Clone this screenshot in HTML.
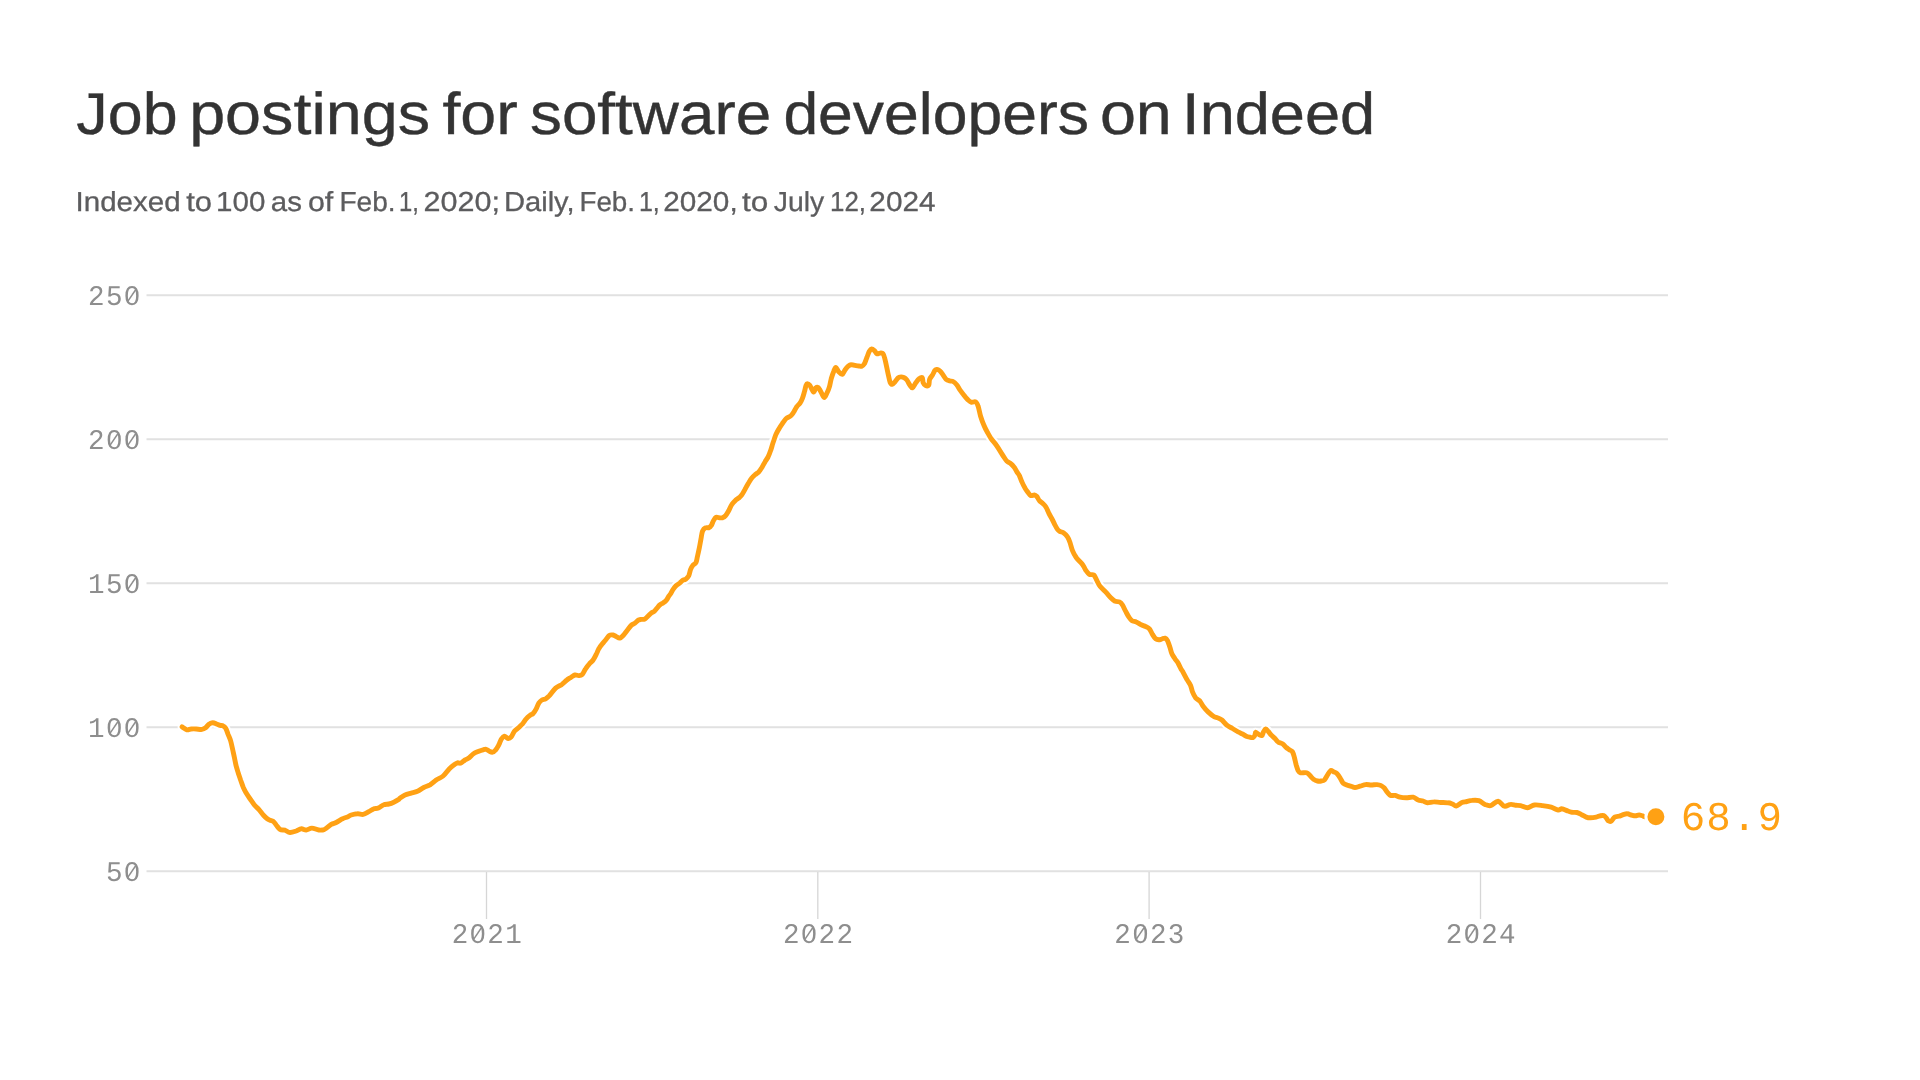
<!DOCTYPE html>
<html lang="en">
<head>
<meta charset="utf-8">
<title>Job postings for software developers on Indeed</title>
<style>
html,body{margin:0;padding:0;background:#fff;}
body{width:1920px;height:1080px;overflow:hidden;position:relative;font-family:"Liberation Sans",sans-serif;}
svg{position:absolute;left:0;top:0;display:block;}
.title,.sub{text-rendering:geometricPrecision;}
.title{font-family:"Liberation Sans",sans-serif;font-size:59.0px;fill:#333;stroke:#333;stroke-width:0.4px;}
.sub{font-family:"Liberation Sans",sans-serif;font-size:27.5px;fill:#5c5c5e;stroke:#5c5c5e;stroke-width:0.3px;}
</style>
</head>
<body>
<svg width="1920" height="1080" viewBox="0 0 1920 1080">
<rect x="0" y="0" width="1920" height="1080" fill="#ffffff"/>
<g opacity="0.999">
<text transform="translate(76.36,134.3) scale(1.0642,1)" class="title">Job</text>
<text transform="translate(189.16,134.3) scale(1.0960,1)" class="title">postings</text>
<text transform="translate(442.40,134.3) scale(1.0942,1)" class="title">for</text>
<text transform="translate(529.98,134.3) scale(1.0815,1)" class="title">software</text>
<text transform="translate(783.38,134.3) scale(1.0587,1)" class="title">developers</text>
<text transform="translate(1099.88,134.3) scale(1.0968,1)" class="title">on</text>
<text transform="translate(1182.09,134.3) scale(1.0700,1)" class="title">Indeed</text>
<text transform="translate(75.58,211) scale(1.0732,1)" class="sub">Indexed</text>
<text transform="translate(186.24,211) scale(1.1264,1)" class="sub">to</text>
<text transform="translate(216.06,211) scale(1.0741,1)" class="sub">100</text>
<text transform="translate(270.76,211) scale(1.0708,1)" class="sub">as</text>
<text transform="translate(307.93,211) scale(1.1037,1)" class="sub">of</text>
<text transform="translate(339.40,211) scale(1.0205,1)" class="sub">Feb.</text>
<text transform="translate(398.99,211) scale(0.8655,1)" class="sub">1,</text>
<text transform="translate(423.47,211) scale(1.1111,1)" class="sub">2020;</text>
<text transform="translate(503.91,211) scale(1.0599,1)" class="sub">Daily,</text>
<text transform="translate(579.42,211) scale(1.0105,1)" class="sub">Feb.</text>
<text transform="translate(638.90,211) scale(0.9091,1)" class="sub">1,</text>
<text transform="translate(663.21,211) scale(1.0818,1)" class="sub">2020,</text>
<text transform="translate(742.03,211) scale(1.1451,1)" class="sub">to</text>
<text transform="translate(773.77,211) scale(1.0325,1)" class="sub">July</text>
<text transform="translate(830.03,211) scale(0.9418,1)" class="sub">12,</text>
<text transform="translate(869.31,211) scale(1.0833,1)" class="sub">2024</text>
<line x1="146.5" y1="295.3" x2="1668" y2="295.3" stroke="#e1e1e1" stroke-width="2"/>
<text transform="scale(0.97,1)" x="99.38 117.73 136.08" y="305.00" text-anchor="middle" font-family="Liberation Mono, monospace" font-size="28.4" fill="#8e8e8e" style="text-rendering:geometricPrecision">250</text>
<rect x="129.79" y="293.21" width="4.40" height="4.71" fill="#ffffff"/>
<line x1="127.77" y1="301.37" x2="135.63" y2="289.72" stroke="#8e8e8e" stroke-width="1.46"/>
<line x1="146.5" y1="439.3" x2="1668" y2="439.3" stroke="#e1e1e1" stroke-width="2"/>
<text transform="scale(0.97,1)" x="99.38 117.73 136.08" y="449.00" text-anchor="middle" font-family="Liberation Mono, monospace" font-size="28.4" fill="#8e8e8e" style="text-rendering:geometricPrecision">200</text>
<rect x="111.99" y="437.21" width="4.40" height="4.71" fill="#ffffff"/>
<line x1="109.97" y1="445.37" x2="117.83" y2="433.72" stroke="#8e8e8e" stroke-width="1.46"/>
<rect x="129.79" y="437.21" width="4.40" height="4.71" fill="#ffffff"/>
<line x1="127.77" y1="445.37" x2="135.63" y2="433.72" stroke="#8e8e8e" stroke-width="1.46"/>
<line x1="146.5" y1="583.3" x2="1668" y2="583.3" stroke="#e1e1e1" stroke-width="2"/>
<text transform="scale(0.97,1)" x="99.38 117.73 136.08" y="593.00" text-anchor="middle" font-family="Liberation Mono, monospace" font-size="28.4" fill="#8e8e8e" style="text-rendering:geometricPrecision">150</text>
<rect x="129.79" y="581.21" width="4.40" height="4.71" fill="#ffffff"/>
<line x1="127.77" y1="589.37" x2="135.63" y2="577.72" stroke="#8e8e8e" stroke-width="1.46"/>
<line x1="146.5" y1="727.3" x2="1668" y2="727.3" stroke="#e1e1e1" stroke-width="2"/>
<text transform="scale(0.97,1)" x="99.38 117.73 136.08" y="737.00" text-anchor="middle" font-family="Liberation Mono, monospace" font-size="28.4" fill="#8e8e8e" style="text-rendering:geometricPrecision">100</text>
<rect x="111.99" y="725.21" width="4.40" height="4.71" fill="#ffffff"/>
<line x1="109.97" y1="733.37" x2="117.83" y2="721.72" stroke="#8e8e8e" stroke-width="1.46"/>
<rect x="129.79" y="725.21" width="4.40" height="4.71" fill="#ffffff"/>
<line x1="127.77" y1="733.37" x2="135.63" y2="721.72" stroke="#8e8e8e" stroke-width="1.46"/>
<line x1="146.5" y1="871.3" x2="1668" y2="871.3" stroke="#e1e1e1" stroke-width="2"/>
<text transform="scale(0.97,1)" x="117.73 136.08" y="881.00" text-anchor="middle" font-family="Liberation Mono, monospace" font-size="28.4" fill="#8e8e8e" style="text-rendering:geometricPrecision">50</text>
<rect x="129.79" y="869.21" width="4.40" height="4.71" fill="#ffffff"/>
<line x1="127.77" y1="877.37" x2="135.63" y2="865.72" stroke="#8e8e8e" stroke-width="1.46"/>
<line x1="486.5" y1="872" x2="486.5" y2="919" stroke="#d6d6d6" stroke-width="1.3"/>
<text transform="scale(0.97,1)" x="474.23 492.58 510.93 529.28" y="943.00" text-anchor="middle" font-family="Liberation Mono, monospace" font-size="28.4" fill="#8e8e8e" style="text-rendering:geometricPrecision">2021</text>
<rect x="475.59" y="931.21" width="4.40" height="4.71" fill="#ffffff"/>
<line x1="473.57" y1="939.37" x2="481.43" y2="927.72" stroke="#8e8e8e" stroke-width="1.46"/>
<line x1="817.8" y1="872" x2="817.8" y2="919" stroke="#d6d6d6" stroke-width="1.3"/>
<text transform="scale(0.97,1)" x="815.77 834.12 852.47 870.82" y="943.00" text-anchor="middle" font-family="Liberation Mono, monospace" font-size="28.4" fill="#8e8e8e" style="text-rendering:geometricPrecision">2022</text>
<rect x="806.89" y="931.21" width="4.40" height="4.71" fill="#ffffff"/>
<line x1="804.87" y1="939.37" x2="812.73" y2="927.72" stroke="#8e8e8e" stroke-width="1.46"/>
<line x1="1149.1" y1="872" x2="1149.1" y2="919" stroke="#d6d6d6" stroke-width="1.3"/>
<text transform="scale(0.97,1)" x="1157.32 1175.67 1194.02 1212.37" y="943.00" text-anchor="middle" font-family="Liberation Mono, monospace" font-size="28.4" fill="#8e8e8e" style="text-rendering:geometricPrecision">2023</text>
<rect x="1138.19" y="931.21" width="4.40" height="4.71" fill="#ffffff"/>
<line x1="1136.17" y1="939.37" x2="1144.03" y2="927.72" stroke="#8e8e8e" stroke-width="1.46"/>
<line x1="1480.5" y1="872" x2="1480.5" y2="919" stroke="#d6d6d6" stroke-width="1.3"/>
<text transform="scale(0.97,1)" x="1498.97 1517.32 1535.67 1554.02" y="943.00" text-anchor="middle" font-family="Liberation Mono, monospace" font-size="28.4" fill="#8e8e8e" style="text-rendering:geometricPrecision">2024</text>
<rect x="1469.59" y="931.21" width="4.40" height="4.71" fill="#ffffff"/>
<line x1="1467.57" y1="939.37" x2="1475.43" y2="927.72" stroke="#8e8e8e" stroke-width="1.46"/>
<path d="M182.1,726.9C182.9,727.4 185.4,729.4 186.9,729.8C188.4,730.1 189.7,729.1 191.2,729.0C192.8,728.9 194.5,728.9 196.2,729.0C198.0,729.1 200.3,729.6 201.9,729.4C203.4,729.2 204.5,728.6 205.6,727.8C206.8,726.9 207.6,725.2 208.8,724.4C209.9,723.5 211.2,722.9 212.5,722.8C213.8,722.6 215.0,723.3 216.2,723.8C217.5,724.2 218.9,725.0 220.0,725.4C221.1,725.7 222.2,725.4 223.1,725.9C224.1,726.3 224.8,726.7 225.6,728.1C226.5,729.5 227.3,732.3 228.1,734.4C229.0,736.5 229.9,738.2 230.6,740.6C231.3,743.0 231.9,745.9 232.5,748.8C233.1,751.6 233.8,754.6 234.4,757.5C235.0,760.4 235.6,763.8 236.2,766.2C236.9,768.8 237.4,770.2 238.1,772.5C238.8,774.8 239.8,777.6 240.6,780.0C241.5,782.4 242.2,784.7 243.1,786.9C244.1,789.1 245.1,791.1 246.2,793.1C247.4,795.1 248.6,796.8 250.0,798.8C251.4,800.7 252.9,803.2 254.4,805.0C255.8,806.8 257.3,807.8 258.8,809.4C260.2,811.0 261.8,813.2 263.1,814.8C264.5,816.3 265.7,817.6 266.9,818.5C268.0,819.4 269.0,819.8 270.0,820.2C271.0,820.7 272.1,820.5 273.1,821.2C274.2,822.0 275.1,823.6 276.2,825.0C277.4,826.4 278.5,828.5 280.0,829.4C281.5,830.3 283.3,829.7 285.0,830.2C286.7,830.8 288.1,832.4 290.0,832.5C291.9,832.6 294.4,831.6 296.2,831.0C298.1,830.4 299.6,828.9 301.2,828.8C302.9,828.6 304.5,830.1 306.2,830.0C308.0,829.9 309.8,828.1 311.9,828.1C314.0,828.1 316.7,829.8 318.8,830.0C320.8,830.2 322.3,830.3 324.4,829.4C326.5,828.4 329.3,825.5 331.2,824.4C333.2,823.2 334.4,823.4 336.2,822.5C338.1,821.6 340.6,819.7 342.5,818.8C344.4,817.8 346.0,817.5 347.5,816.9C349.0,816.3 349.6,815.5 351.2,815.0C352.9,814.5 355.5,813.9 357.5,813.8C359.5,813.6 361.2,814.7 363.1,814.4C365.0,814.0 367.0,812.6 368.8,811.6C370.5,810.7 372.2,809.3 373.8,808.8C375.3,808.2 376.5,808.8 378.1,808.1C379.8,807.5 382.0,805.4 383.8,804.8C385.5,804.1 387.1,804.4 388.8,804.0C390.4,803.6 392.1,803.0 393.8,802.2C395.4,801.5 397.7,800.1 398.8,799.4C399.8,798.7 399.0,798.9 400.0,798.1C401.0,797.4 403.1,795.8 405.0,795.0C406.9,794.2 409.2,793.7 411.2,793.1C413.3,792.5 415.4,792.2 417.5,791.2C419.6,790.3 421.7,788.6 423.8,787.5C425.8,786.4 427.9,786.0 430.0,784.8C432.1,783.5 434.1,781.5 436.2,780.0C438.4,778.5 441.0,777.8 443.1,776.0C445.2,774.2 447.0,771.2 448.8,769.4C450.5,767.5 452.3,766.1 453.8,765.0C455.2,763.9 456.4,763.1 457.5,762.8C458.6,762.4 459.4,763.6 460.6,763.1C461.9,762.7 463.6,760.8 465.0,760.0C466.4,759.2 467.3,759.2 468.8,758.1C470.2,757.0 472.1,754.6 473.8,753.5C475.4,752.4 477.2,751.9 478.8,751.2C480.3,750.6 481.9,750.1 483.1,749.8C484.4,749.4 485.2,749.1 486.2,749.4C487.3,749.6 488.3,750.8 489.4,751.2C490.4,751.7 491.5,752.5 492.5,752.2C493.5,752.0 494.6,751.2 495.6,750.0C496.7,748.8 497.8,746.8 498.8,745.0C499.7,743.2 500.3,740.8 501.2,739.4C502.2,737.9 503.2,736.4 504.4,736.2C505.5,736.1 507.0,738.4 508.1,738.5C509.3,738.6 510.2,738.1 511.2,736.9C512.3,735.7 513.1,732.8 514.4,731.2C515.6,729.7 517.4,728.8 518.8,727.5C520.1,726.2 521.2,725.2 522.5,723.8C523.8,722.3 525.0,720.1 526.2,718.8C527.5,717.4 528.9,716.3 530.0,715.4C531.1,714.5 532.1,714.6 533.1,713.5C534.2,712.4 535.3,710.5 536.2,708.8C537.2,707.0 537.8,704.6 538.8,703.1C539.7,701.7 540.7,700.7 541.9,700.0C543.0,699.3 544.4,699.5 545.6,698.8C546.9,698.0 547.7,697.4 549.4,695.6C551.0,693.8 553.5,690.0 555.6,688.1C557.7,686.2 560.0,685.7 561.9,684.4C563.8,683.0 565.3,681.2 566.9,680.0C568.4,678.8 569.9,678.1 571.2,677.2C572.6,676.4 573.8,675.3 575.0,675.0C576.2,674.7 577.5,675.7 578.8,675.6C580.0,675.5 581.1,675.5 582.2,674.4C583.4,673.2 584.4,670.5 585.6,668.8C586.8,667.0 588.1,665.2 589.4,663.8C590.6,662.3 592.0,661.6 593.1,660.0C594.3,658.4 595.3,656.3 596.2,654.4C597.2,652.5 597.8,650.4 598.8,648.8C599.7,647.1 600.7,645.8 601.9,644.4C603.0,642.9 604.4,641.5 605.6,640.0C606.9,638.5 608.1,636.2 609.4,635.4C610.6,634.5 612.0,634.8 613.1,635.0C614.3,635.2 615.1,636.0 616.2,636.5C617.4,637.0 618.5,638.4 619.8,638.1C621.0,637.8 622.5,636.1 623.8,634.8C625.0,633.4 626.2,631.6 627.5,630.0C628.8,628.4 630.0,626.5 631.2,625.4C632.5,624.2 633.9,624.0 635.0,623.1C636.1,622.3 637.1,620.9 638.1,620.2C639.2,619.6 640.1,619.6 641.2,619.4C642.4,619.2 643.6,619.6 644.8,619.0C645.9,618.4 647.0,617.0 648.1,616.0C649.2,615.0 650.2,613.9 651.2,613.1C652.3,612.3 653.3,612.2 654.4,611.2C655.4,610.3 656.6,608.6 657.5,607.5C658.4,606.4 659.1,605.5 660.0,604.8C660.9,604.0 662.1,603.6 663.1,602.9C664.2,602.2 665.3,601.5 666.2,600.4C667.2,599.3 668.0,597.4 668.8,596.2C669.5,595.1 669.9,594.9 670.6,593.8C671.3,592.6 672.2,590.7 673.1,589.4C674.1,588.0 675.1,586.7 676.2,585.6C677.4,584.5 678.9,583.7 680.0,582.8C681.1,581.8 682.2,580.6 683.1,580.0C684.1,579.4 684.7,580.1 685.6,579.4C686.6,578.6 687.9,577.3 688.8,575.6C689.6,574.0 689.9,571.1 690.6,569.4C691.3,567.6 692.2,566.1 693.1,565.0C694.0,563.9 695.3,564.0 696.0,562.5C696.7,561.0 696.9,558.8 697.5,556.2C698.1,553.8 698.8,550.4 699.4,547.5C700.0,544.6 700.5,541.5 701.0,538.8C701.5,536.0 701.7,533.1 702.5,531.2C703.3,529.4 704.6,528.3 705.6,527.8C706.7,527.2 707.8,528.1 708.8,527.8C709.7,527.4 710.5,526.8 711.2,525.6C712.0,524.4 712.7,522.0 713.5,520.6C714.3,519.2 715.3,517.7 716.2,517.2C717.2,516.8 718.3,517.7 719.4,517.8C720.4,517.8 721.5,518.1 722.5,517.8C723.5,517.4 724.6,516.8 725.6,515.6C726.7,514.4 727.7,512.5 728.8,510.6C729.8,508.7 730.7,506.1 731.9,504.4C733.0,502.7 734.4,501.4 735.6,500.2C736.9,499.1 738.3,498.4 739.4,497.5C740.4,496.6 740.9,496.1 741.9,494.8C742.8,493.4 744.0,491.2 745.0,489.4C746.0,487.5 747.1,485.5 748.1,483.8C749.2,482.0 750.1,480.2 751.2,478.8C752.4,477.2 753.8,475.9 755.0,474.8C756.2,473.6 757.6,473.1 758.8,471.9C759.9,470.7 760.8,469.2 761.9,467.5C762.9,465.8 764.0,463.6 765.0,461.9C766.0,460.1 767.2,458.8 768.1,456.9C769.1,455.0 769.9,452.7 770.6,450.6C771.4,448.5 771.9,446.4 772.5,444.4C773.1,442.4 773.8,440.5 774.4,438.8C775.0,437.0 775.4,435.5 776.2,433.8C777.1,432.0 778.2,430.0 779.4,428.1C780.5,426.2 782.0,424.1 783.1,422.5C784.3,420.9 785.0,419.6 786.2,418.5C787.5,417.4 789.4,417.1 790.6,416.0C791.9,414.9 792.7,413.5 793.8,411.9C794.8,410.3 795.8,408.0 796.9,406.5C797.9,405.0 799.1,404.5 800.0,403.1C800.9,401.7 801.8,400.0 802.5,398.1C803.2,396.2 803.8,394.0 804.4,391.9C805.0,389.8 805.5,387.0 806.0,385.6C806.5,384.3 806.6,383.8 807.2,383.8C807.9,383.8 809.0,384.3 810.0,385.6C811.0,387.0 812.6,391.5 813.5,391.9C814.4,392.3 814.9,388.9 815.6,388.1C816.4,387.4 817.3,387.0 818.1,387.5C819.0,388.0 819.6,389.6 820.6,391.2C821.6,392.9 823.1,397.2 824.1,397.5C825.2,397.8 826.0,394.9 826.9,393.1C827.8,391.4 828.7,389.3 829.4,386.9C830.1,384.5 830.5,381.4 831.2,378.8C832.0,376.1 833.0,373.1 833.8,371.2C834.5,369.4 835.0,367.4 835.9,367.5C836.7,367.6 837.7,370.7 838.8,371.9C839.8,373.0 841.2,374.7 842.2,374.4C843.3,374.1 844.0,371.4 845.0,370.0C846.0,368.6 847.1,367.1 848.1,366.2C849.2,365.4 850.1,364.9 851.2,364.8C852.4,364.6 853.8,365.2 855.0,365.4C856.2,365.6 857.6,365.9 858.8,366.0C859.9,366.1 860.9,366.6 861.9,366.2C862.8,365.9 863.5,365.2 864.4,363.8C865.2,362.3 866.0,359.6 866.9,357.5C867.7,355.4 868.6,352.7 869.4,351.2C870.2,349.8 870.8,349.1 871.6,349.0C872.5,348.9 873.5,349.8 874.4,350.6C875.3,351.4 875.9,353.3 876.9,353.8C877.8,354.2 879.0,353.1 880.0,353.1C881.0,353.1 882.3,352.7 883.1,353.8C884.0,354.8 884.4,357.0 885.0,359.4C885.6,361.8 886.3,365.2 886.9,368.1C887.5,371.0 888.2,374.5 888.8,376.9C889.3,379.3 889.7,381.2 890.2,382.5C890.8,383.8 891.5,384.5 892.2,384.4C893.0,384.3 894.0,383.0 895.0,381.9C896.0,380.8 897.2,378.6 898.1,377.8C899.1,376.9 899.7,376.9 900.6,376.9C901.6,376.8 902.7,377.0 903.8,377.5C904.8,378.0 905.9,378.8 906.9,380.0C907.9,381.2 908.8,383.7 909.8,385.0C910.7,386.3 911.5,388.1 912.5,387.8C913.5,387.4 914.6,384.6 915.6,383.1C916.7,381.7 917.6,379.9 918.8,379.0C919.9,378.1 921.5,376.9 922.2,377.5C923.0,378.1 922.6,381.1 923.1,382.5C923.7,383.9 924.7,385.2 925.6,385.6C926.6,386.0 928.1,386.0 928.8,385.0C929.4,384.0 929.0,381.0 929.6,379.4C930.2,377.7 931.6,376.5 932.5,375.0C933.4,373.5 934.3,371.2 935.0,370.2C935.7,369.3 936.0,369.3 936.9,369.4C937.7,369.5 939.0,370.1 940.0,371.0C941.0,371.9 942.1,373.6 943.1,375.0C944.2,376.4 945.1,378.4 946.2,379.4C947.4,380.4 948.9,380.6 950.0,381.0C951.1,381.4 952.0,380.8 953.1,381.5C954.3,382.2 955.7,383.6 956.9,385.0C958.0,386.4 958.9,388.3 960.0,390.0C961.1,391.7 962.5,393.4 963.8,395.0C965.0,396.6 966.2,398.2 967.5,399.4C968.8,400.6 969.9,401.8 971.2,402.2C972.6,402.7 974.5,401.2 975.6,401.9C976.8,402.5 977.3,403.9 978.1,406.2C979.0,408.6 979.7,413.1 980.6,416.2C981.6,419.4 982.6,422.3 983.8,425.0C984.9,427.7 986.2,430.2 987.5,432.5C988.8,434.8 989.8,436.7 991.2,438.8C992.7,440.8 994.7,442.8 996.2,445.0C997.8,447.2 999.4,449.9 1000.6,451.9C1001.9,453.9 1002.7,455.3 1003.8,456.9C1004.8,458.4 1005.7,460.1 1006.9,461.2C1008.0,462.4 1009.4,462.5 1010.6,463.5C1011.9,464.5 1013.3,466.1 1014.4,467.5C1015.4,468.9 1016.0,470.5 1016.9,471.9C1017.7,473.2 1018.5,474.0 1019.4,475.6C1020.2,477.3 1020.9,479.8 1021.9,481.9C1022.8,484.0 1024.0,486.4 1025.0,488.1C1026.0,489.9 1027.2,491.2 1028.1,492.5C1029.1,493.8 1029.6,495.2 1030.6,495.6C1031.7,496.0 1033.3,494.9 1034.4,495.0C1035.4,495.1 1036.0,495.6 1036.9,496.5C1037.7,497.4 1038.3,499.4 1039.4,500.6C1040.4,501.8 1042.0,502.6 1043.1,503.8C1044.3,504.9 1045.3,505.9 1046.2,507.5C1047.2,509.1 1047.8,511.2 1048.8,513.1C1049.7,515.0 1050.8,516.8 1051.9,518.8C1052.9,520.7 1054.1,523.2 1055.0,525.0C1055.9,526.8 1056.7,528.3 1057.5,529.4C1058.3,530.5 1059.1,531.0 1060.0,531.5C1060.9,532.0 1061.9,531.6 1063.1,532.5C1064.4,533.4 1066.4,535.2 1067.5,536.9C1068.6,538.5 1069.2,540.2 1070.0,542.5C1070.8,544.8 1071.5,548.1 1072.5,550.6C1073.5,553.1 1074.6,555.2 1076.2,557.5C1077.9,559.8 1080.9,562.3 1082.5,564.4C1084.1,566.5 1084.5,568.3 1085.6,570.0C1086.8,571.7 1088.0,573.5 1089.4,574.4C1090.7,575.2 1092.5,574.0 1093.8,575.0C1095.0,576.0 1095.8,578.7 1096.9,580.6C1097.9,582.5 1098.5,584.4 1100.0,586.2C1101.5,588.1 1103.8,590.0 1105.6,591.9C1107.4,593.8 1109.1,595.9 1110.6,597.5C1112.2,599.1 1113.5,600.5 1115.0,601.2C1116.5,602.0 1118.1,601.3 1119.4,601.9C1120.6,602.5 1121.5,603.4 1122.5,605.0C1123.5,606.6 1124.6,609.3 1125.6,611.2C1126.7,613.2 1127.7,615.3 1128.8,616.9C1129.8,618.4 1130.6,619.8 1131.9,620.6C1133.1,621.5 1134.7,621.2 1136.2,621.9C1137.8,622.6 1139.7,624.0 1141.2,624.8C1142.8,625.5 1144.3,625.8 1145.6,626.5C1147.0,627.2 1148.2,627.4 1149.4,628.8C1150.5,630.1 1151.5,632.7 1152.5,634.4C1153.5,636.0 1154.6,637.9 1155.6,638.8C1156.7,639.6 1157.7,639.7 1158.8,639.8C1159.8,639.8 1160.8,639.3 1161.9,639.0C1162.9,638.7 1164.1,637.9 1165.0,638.1C1165.9,638.4 1166.7,639.1 1167.5,640.6C1168.3,642.2 1169.3,645.3 1170.0,647.5C1170.7,649.7 1171.0,651.9 1171.9,653.8C1172.7,655.6 1174.0,657.2 1175.0,658.8C1176.0,660.3 1177.1,661.3 1178.1,663.1C1179.2,664.9 1180.5,668.0 1181.2,669.4C1182.0,670.7 1181.6,669.6 1182.5,671.2C1183.4,672.9 1185.5,677.0 1186.9,679.4C1188.2,681.8 1189.7,683.5 1190.6,685.6C1191.6,687.7 1191.7,689.9 1192.5,691.9C1193.3,693.9 1194.4,696.2 1195.6,697.8C1196.9,699.3 1198.8,699.8 1200.0,701.2C1201.2,702.7 1201.8,704.5 1203.1,706.2C1204.5,708.0 1206.3,710.2 1208.1,711.9C1209.9,713.6 1212.2,715.5 1213.8,716.5C1215.3,717.5 1216.1,717.2 1217.5,717.8C1218.9,718.3 1220.3,718.8 1221.9,720.0C1223.4,721.2 1225.1,723.8 1226.9,725.2C1228.7,726.7 1230.6,727.4 1232.5,728.5C1234.4,729.6 1236.5,731.0 1238.1,731.9C1239.8,732.8 1241.1,733.3 1242.5,734.0C1243.9,734.7 1245.0,735.7 1246.2,736.2C1247.5,736.8 1248.9,737.0 1250.0,737.2C1251.1,737.5 1252.3,737.9 1253.1,737.5C1254.0,737.1 1254.6,735.9 1255.0,735.0C1255.4,734.1 1255.0,732.4 1255.6,732.2C1256.2,732.1 1257.7,733.8 1258.8,734.4C1259.8,734.9 1261.1,736.0 1261.9,735.6C1262.7,735.2 1262.9,733.0 1263.5,731.9C1264.1,730.8 1264.8,729.1 1265.6,729.0C1266.4,728.9 1267.2,730.2 1268.1,731.2C1269.1,732.2 1270.1,733.8 1271.2,735.0C1272.4,736.2 1273.9,737.4 1275.0,738.5C1276.1,739.6 1276.9,741.0 1278.1,741.9C1279.4,742.8 1281.1,742.8 1282.5,743.8C1283.9,744.7 1285.1,746.5 1286.2,747.5C1287.4,748.5 1288.3,749.0 1289.4,749.8C1290.4,750.5 1291.7,750.6 1292.5,751.9C1293.3,753.2 1293.8,755.3 1294.4,757.5C1295.0,759.7 1295.6,762.8 1296.2,765.0C1296.9,767.2 1297.4,769.3 1298.1,770.6C1298.8,771.9 1299.2,772.4 1300.6,772.8C1302.1,773.1 1305.3,772.3 1306.9,772.8C1308.4,773.2 1308.9,774.5 1310.0,775.6C1311.1,776.7 1312.5,778.5 1313.8,779.4C1315.0,780.3 1316.2,780.7 1317.5,781.0C1318.8,781.3 1320.1,781.2 1321.2,781.0C1322.4,780.8 1323.3,781.0 1324.4,780.0C1325.4,779.0 1326.5,776.6 1327.5,775.0C1328.5,773.4 1329.6,771.1 1330.6,770.6C1331.7,770.1 1332.7,771.4 1333.8,771.9C1334.8,772.4 1335.7,772.4 1336.9,773.5C1338.0,774.6 1339.6,777.1 1340.6,778.8C1341.7,780.4 1342.0,782.0 1343.1,783.1C1344.3,784.2 1346.0,784.7 1347.5,785.2C1349.0,785.8 1350.6,786.1 1351.9,786.5C1353.1,786.9 1353.6,787.5 1355.0,787.5C1356.4,787.5 1358.2,786.7 1360.0,786.2C1361.8,785.8 1363.7,784.8 1365.6,784.6C1367.5,784.4 1369.4,785.0 1371.2,785.0C1373.1,785.0 1375.2,784.5 1376.9,784.6C1378.5,784.7 1380.0,785.0 1381.2,785.6C1382.5,786.2 1383.3,787.0 1384.4,788.1C1385.4,789.3 1386.5,791.3 1387.5,792.5C1388.5,793.7 1389.4,794.9 1390.6,795.4C1391.9,795.9 1393.4,795.1 1395.0,795.4C1396.6,795.7 1398.1,796.7 1400.0,797.1C1401.9,797.5 1404.1,797.7 1406.2,797.8C1408.4,797.8 1411.1,796.9 1413.1,797.2C1415.1,797.6 1416.5,799.4 1418.1,800.0C1419.8,800.6 1421.6,800.5 1423.1,801.0C1424.7,801.5 1425.7,802.6 1427.5,802.8C1429.3,802.9 1431.6,801.9 1433.8,801.9C1435.9,801.8 1438.2,802.4 1440.6,802.5C1443.0,802.6 1446.1,802.5 1448.1,802.8C1450.1,803.0 1451.1,803.5 1452.5,804.0C1453.9,804.5 1454.7,806.2 1456.2,806.0C1457.8,805.8 1460.1,803.2 1461.9,802.5C1463.7,801.8 1465.2,801.9 1466.9,801.5C1468.5,801.1 1469.9,800.5 1471.9,800.4C1473.9,800.2 1476.6,800.0 1478.8,800.6C1480.9,801.3 1483.0,803.5 1485.0,804.4C1487.0,805.2 1488.4,806.1 1490.6,805.6C1492.8,805.1 1495.8,801.1 1498.1,801.2C1500.4,801.4 1502.3,805.7 1504.4,806.2C1506.5,806.8 1508.7,804.5 1510.6,804.4C1512.5,804.2 1514.0,805.0 1515.6,805.2C1517.3,805.5 1518.6,805.2 1520.6,805.6C1522.6,806.0 1525.2,807.9 1527.5,807.8C1529.8,807.6 1531.9,805.4 1534.4,805.0C1536.9,804.6 1539.7,805.2 1542.5,805.6C1545.3,806.0 1548.6,806.5 1551.2,807.2C1553.9,808.0 1556.3,809.8 1558.1,810.0C1559.9,810.2 1560.4,808.6 1561.9,808.8C1563.3,808.9 1565.3,810.0 1566.9,810.6C1568.4,811.2 1569.6,811.9 1571.2,812.2C1572.9,812.6 1575.2,812.1 1576.9,812.5C1578.5,812.9 1579.7,813.6 1581.2,814.4C1582.8,815.1 1584.7,816.6 1586.2,817.1C1587.8,817.7 1589.0,817.8 1590.6,817.8C1592.3,817.8 1594.7,817.4 1596.2,817.1C1597.8,816.8 1598.8,816.1 1600.0,815.8C1601.2,815.6 1602.6,815.3 1603.7,815.6C1604.7,816.0 1605.5,817.1 1606.2,817.9C1607.0,818.8 1607.5,820.3 1608.3,820.8C1609.2,821.4 1610.4,821.7 1611.5,821.0C1612.5,820.4 1613.2,817.9 1614.6,817.1C1616.0,816.2 1618.2,816.5 1619.8,816.0C1621.4,815.6 1622.7,814.7 1624.0,814.3C1625.3,813.9 1626.4,813.6 1627.6,813.8C1628.8,813.9 1629.9,814.7 1631.2,815.0C1632.6,815.3 1634.1,815.8 1635.4,815.8C1636.7,815.8 1637.8,815.0 1639.1,815.0C1640.3,815.0 1641.7,815.6 1642.7,815.8C1643.7,816.1 1642.8,816.5 1645.0,816.7C1647.2,816.8 1654.1,816.7 1655.9,816.7" fill="none" stroke="#ffffff" stroke-width="9" stroke-linejoin="round" stroke-linecap="round"/>
<path d="M182.1,726.9C182.9,727.4 185.4,729.4 186.9,729.8C188.4,730.1 189.7,729.1 191.2,729.0C192.8,728.9 194.5,728.9 196.2,729.0C198.0,729.1 200.3,729.6 201.9,729.4C203.4,729.2 204.5,728.6 205.6,727.8C206.8,726.9 207.6,725.2 208.8,724.4C209.9,723.5 211.2,722.9 212.5,722.8C213.8,722.6 215.0,723.3 216.2,723.8C217.5,724.2 218.9,725.0 220.0,725.4C221.1,725.7 222.2,725.4 223.1,725.9C224.1,726.3 224.8,726.7 225.6,728.1C226.5,729.5 227.3,732.3 228.1,734.4C229.0,736.5 229.9,738.2 230.6,740.6C231.3,743.0 231.9,745.9 232.5,748.8C233.1,751.6 233.8,754.6 234.4,757.5C235.0,760.4 235.6,763.8 236.2,766.2C236.9,768.8 237.4,770.2 238.1,772.5C238.8,774.8 239.8,777.6 240.6,780.0C241.5,782.4 242.2,784.7 243.1,786.9C244.1,789.1 245.1,791.1 246.2,793.1C247.4,795.1 248.6,796.8 250.0,798.8C251.4,800.7 252.9,803.2 254.4,805.0C255.8,806.8 257.3,807.8 258.8,809.4C260.2,811.0 261.8,813.2 263.1,814.8C264.5,816.3 265.7,817.6 266.9,818.5C268.0,819.4 269.0,819.8 270.0,820.2C271.0,820.7 272.1,820.5 273.1,821.2C274.2,822.0 275.1,823.6 276.2,825.0C277.4,826.4 278.5,828.5 280.0,829.4C281.5,830.3 283.3,829.7 285.0,830.2C286.7,830.8 288.1,832.4 290.0,832.5C291.9,832.6 294.4,831.6 296.2,831.0C298.1,830.4 299.6,828.9 301.2,828.8C302.9,828.6 304.5,830.1 306.2,830.0C308.0,829.9 309.8,828.1 311.9,828.1C314.0,828.1 316.7,829.8 318.8,830.0C320.8,830.2 322.3,830.3 324.4,829.4C326.5,828.4 329.3,825.5 331.2,824.4C333.2,823.2 334.4,823.4 336.2,822.5C338.1,821.6 340.6,819.7 342.5,818.8C344.4,817.8 346.0,817.5 347.5,816.9C349.0,816.3 349.6,815.5 351.2,815.0C352.9,814.5 355.5,813.9 357.5,813.8C359.5,813.6 361.2,814.7 363.1,814.4C365.0,814.0 367.0,812.6 368.8,811.6C370.5,810.7 372.2,809.3 373.8,808.8C375.3,808.2 376.5,808.8 378.1,808.1C379.8,807.5 382.0,805.4 383.8,804.8C385.5,804.1 387.1,804.4 388.8,804.0C390.4,803.6 392.1,803.0 393.8,802.2C395.4,801.5 397.7,800.1 398.8,799.4C399.8,798.7 399.0,798.9 400.0,798.1C401.0,797.4 403.1,795.8 405.0,795.0C406.9,794.2 409.2,793.7 411.2,793.1C413.3,792.5 415.4,792.2 417.5,791.2C419.6,790.3 421.7,788.6 423.8,787.5C425.8,786.4 427.9,786.0 430.0,784.8C432.1,783.5 434.1,781.5 436.2,780.0C438.4,778.5 441.0,777.8 443.1,776.0C445.2,774.2 447.0,771.2 448.8,769.4C450.5,767.5 452.3,766.1 453.8,765.0C455.2,763.9 456.4,763.1 457.5,762.8C458.6,762.4 459.4,763.6 460.6,763.1C461.9,762.7 463.6,760.8 465.0,760.0C466.4,759.2 467.3,759.2 468.8,758.1C470.2,757.0 472.1,754.6 473.8,753.5C475.4,752.4 477.2,751.9 478.8,751.2C480.3,750.6 481.9,750.1 483.1,749.8C484.4,749.4 485.2,749.1 486.2,749.4C487.3,749.6 488.3,750.8 489.4,751.2C490.4,751.7 491.5,752.5 492.5,752.2C493.5,752.0 494.6,751.2 495.6,750.0C496.7,748.8 497.8,746.8 498.8,745.0C499.7,743.2 500.3,740.8 501.2,739.4C502.2,737.9 503.2,736.4 504.4,736.2C505.5,736.1 507.0,738.4 508.1,738.5C509.3,738.6 510.2,738.1 511.2,736.9C512.3,735.7 513.1,732.8 514.4,731.2C515.6,729.7 517.4,728.8 518.8,727.5C520.1,726.2 521.2,725.2 522.5,723.8C523.8,722.3 525.0,720.1 526.2,718.8C527.5,717.4 528.9,716.3 530.0,715.4C531.1,714.5 532.1,714.6 533.1,713.5C534.2,712.4 535.3,710.5 536.2,708.8C537.2,707.0 537.8,704.6 538.8,703.1C539.7,701.7 540.7,700.7 541.9,700.0C543.0,699.3 544.4,699.5 545.6,698.8C546.9,698.0 547.7,697.4 549.4,695.6C551.0,693.8 553.5,690.0 555.6,688.1C557.7,686.2 560.0,685.7 561.9,684.4C563.8,683.0 565.3,681.2 566.9,680.0C568.4,678.8 569.9,678.1 571.2,677.2C572.6,676.4 573.8,675.3 575.0,675.0C576.2,674.7 577.5,675.7 578.8,675.6C580.0,675.5 581.1,675.5 582.2,674.4C583.4,673.2 584.4,670.5 585.6,668.8C586.8,667.0 588.1,665.2 589.4,663.8C590.6,662.3 592.0,661.6 593.1,660.0C594.3,658.4 595.3,656.3 596.2,654.4C597.2,652.5 597.8,650.4 598.8,648.8C599.7,647.1 600.7,645.8 601.9,644.4C603.0,642.9 604.4,641.5 605.6,640.0C606.9,638.5 608.1,636.2 609.4,635.4C610.6,634.5 612.0,634.8 613.1,635.0C614.3,635.2 615.1,636.0 616.2,636.5C617.4,637.0 618.5,638.4 619.8,638.1C621.0,637.8 622.5,636.1 623.8,634.8C625.0,633.4 626.2,631.6 627.5,630.0C628.8,628.4 630.0,626.5 631.2,625.4C632.5,624.2 633.9,624.0 635.0,623.1C636.1,622.3 637.1,620.9 638.1,620.2C639.2,619.6 640.1,619.6 641.2,619.4C642.4,619.2 643.6,619.6 644.8,619.0C645.9,618.4 647.0,617.0 648.1,616.0C649.2,615.0 650.2,613.9 651.2,613.1C652.3,612.3 653.3,612.2 654.4,611.2C655.4,610.3 656.6,608.6 657.5,607.5C658.4,606.4 659.1,605.5 660.0,604.8C660.9,604.0 662.1,603.6 663.1,602.9C664.2,602.2 665.3,601.5 666.2,600.4C667.2,599.3 668.0,597.4 668.8,596.2C669.5,595.1 669.9,594.9 670.6,593.8C671.3,592.6 672.2,590.7 673.1,589.4C674.1,588.0 675.1,586.7 676.2,585.6C677.4,584.5 678.9,583.7 680.0,582.8C681.1,581.8 682.2,580.6 683.1,580.0C684.1,579.4 684.7,580.1 685.6,579.4C686.6,578.6 687.9,577.3 688.8,575.6C689.6,574.0 689.9,571.1 690.6,569.4C691.3,567.6 692.2,566.1 693.1,565.0C694.0,563.9 695.3,564.0 696.0,562.5C696.7,561.0 696.9,558.8 697.5,556.2C698.1,553.8 698.8,550.4 699.4,547.5C700.0,544.6 700.5,541.5 701.0,538.8C701.5,536.0 701.7,533.1 702.5,531.2C703.3,529.4 704.6,528.3 705.6,527.8C706.7,527.2 707.8,528.1 708.8,527.8C709.7,527.4 710.5,526.8 711.2,525.6C712.0,524.4 712.7,522.0 713.5,520.6C714.3,519.2 715.3,517.7 716.2,517.2C717.2,516.8 718.3,517.7 719.4,517.8C720.4,517.8 721.5,518.1 722.5,517.8C723.5,517.4 724.6,516.8 725.6,515.6C726.7,514.4 727.7,512.5 728.8,510.6C729.8,508.7 730.7,506.1 731.9,504.4C733.0,502.7 734.4,501.4 735.6,500.2C736.9,499.1 738.3,498.4 739.4,497.5C740.4,496.6 740.9,496.1 741.9,494.8C742.8,493.4 744.0,491.2 745.0,489.4C746.0,487.5 747.1,485.5 748.1,483.8C749.2,482.0 750.1,480.2 751.2,478.8C752.4,477.2 753.8,475.9 755.0,474.8C756.2,473.6 757.6,473.1 758.8,471.9C759.9,470.7 760.8,469.2 761.9,467.5C762.9,465.8 764.0,463.6 765.0,461.9C766.0,460.1 767.2,458.8 768.1,456.9C769.1,455.0 769.9,452.7 770.6,450.6C771.4,448.5 771.9,446.4 772.5,444.4C773.1,442.4 773.8,440.5 774.4,438.8C775.0,437.0 775.4,435.5 776.2,433.8C777.1,432.0 778.2,430.0 779.4,428.1C780.5,426.2 782.0,424.1 783.1,422.5C784.3,420.9 785.0,419.6 786.2,418.5C787.5,417.4 789.4,417.1 790.6,416.0C791.9,414.9 792.7,413.5 793.8,411.9C794.8,410.3 795.8,408.0 796.9,406.5C797.9,405.0 799.1,404.5 800.0,403.1C800.9,401.7 801.8,400.0 802.5,398.1C803.2,396.2 803.8,394.0 804.4,391.9C805.0,389.8 805.5,387.0 806.0,385.6C806.5,384.3 806.6,383.8 807.2,383.8C807.9,383.8 809.0,384.3 810.0,385.6C811.0,387.0 812.6,391.5 813.5,391.9C814.4,392.3 814.9,388.9 815.6,388.1C816.4,387.4 817.3,387.0 818.1,387.5C819.0,388.0 819.6,389.6 820.6,391.2C821.6,392.9 823.1,397.2 824.1,397.5C825.2,397.8 826.0,394.9 826.9,393.1C827.8,391.4 828.7,389.3 829.4,386.9C830.1,384.5 830.5,381.4 831.2,378.8C832.0,376.1 833.0,373.1 833.8,371.2C834.5,369.4 835.0,367.4 835.9,367.5C836.7,367.6 837.7,370.7 838.8,371.9C839.8,373.0 841.2,374.7 842.2,374.4C843.3,374.1 844.0,371.4 845.0,370.0C846.0,368.6 847.1,367.1 848.1,366.2C849.2,365.4 850.1,364.9 851.2,364.8C852.4,364.6 853.8,365.2 855.0,365.4C856.2,365.6 857.6,365.9 858.8,366.0C859.9,366.1 860.9,366.6 861.9,366.2C862.8,365.9 863.5,365.2 864.4,363.8C865.2,362.3 866.0,359.6 866.9,357.5C867.7,355.4 868.6,352.7 869.4,351.2C870.2,349.8 870.8,349.1 871.6,349.0C872.5,348.9 873.5,349.8 874.4,350.6C875.3,351.4 875.9,353.3 876.9,353.8C877.8,354.2 879.0,353.1 880.0,353.1C881.0,353.1 882.3,352.7 883.1,353.8C884.0,354.8 884.4,357.0 885.0,359.4C885.6,361.8 886.3,365.2 886.9,368.1C887.5,371.0 888.2,374.5 888.8,376.9C889.3,379.3 889.7,381.2 890.2,382.5C890.8,383.8 891.5,384.5 892.2,384.4C893.0,384.3 894.0,383.0 895.0,381.9C896.0,380.8 897.2,378.6 898.1,377.8C899.1,376.9 899.7,376.9 900.6,376.9C901.6,376.8 902.7,377.0 903.8,377.5C904.8,378.0 905.9,378.8 906.9,380.0C907.9,381.2 908.8,383.7 909.8,385.0C910.7,386.3 911.5,388.1 912.5,387.8C913.5,387.4 914.6,384.6 915.6,383.1C916.7,381.7 917.6,379.9 918.8,379.0C919.9,378.1 921.5,376.9 922.2,377.5C923.0,378.1 922.6,381.1 923.1,382.5C923.7,383.9 924.7,385.2 925.6,385.6C926.6,386.0 928.1,386.0 928.8,385.0C929.4,384.0 929.0,381.0 929.6,379.4C930.2,377.7 931.6,376.5 932.5,375.0C933.4,373.5 934.3,371.2 935.0,370.2C935.7,369.3 936.0,369.3 936.9,369.4C937.7,369.5 939.0,370.1 940.0,371.0C941.0,371.9 942.1,373.6 943.1,375.0C944.2,376.4 945.1,378.4 946.2,379.4C947.4,380.4 948.9,380.6 950.0,381.0C951.1,381.4 952.0,380.8 953.1,381.5C954.3,382.2 955.7,383.6 956.9,385.0C958.0,386.4 958.9,388.3 960.0,390.0C961.1,391.7 962.5,393.4 963.8,395.0C965.0,396.6 966.2,398.2 967.5,399.4C968.8,400.6 969.9,401.8 971.2,402.2C972.6,402.7 974.5,401.2 975.6,401.9C976.8,402.5 977.3,403.9 978.1,406.2C979.0,408.6 979.7,413.1 980.6,416.2C981.6,419.4 982.6,422.3 983.8,425.0C984.9,427.7 986.2,430.2 987.5,432.5C988.8,434.8 989.8,436.7 991.2,438.8C992.7,440.8 994.7,442.8 996.2,445.0C997.8,447.2 999.4,449.9 1000.6,451.9C1001.9,453.9 1002.7,455.3 1003.8,456.9C1004.8,458.4 1005.7,460.1 1006.9,461.2C1008.0,462.4 1009.4,462.5 1010.6,463.5C1011.9,464.5 1013.3,466.1 1014.4,467.5C1015.4,468.9 1016.0,470.5 1016.9,471.9C1017.7,473.2 1018.5,474.0 1019.4,475.6C1020.2,477.3 1020.9,479.8 1021.9,481.9C1022.8,484.0 1024.0,486.4 1025.0,488.1C1026.0,489.9 1027.2,491.2 1028.1,492.5C1029.1,493.8 1029.6,495.2 1030.6,495.6C1031.7,496.0 1033.3,494.9 1034.4,495.0C1035.4,495.1 1036.0,495.6 1036.9,496.5C1037.7,497.4 1038.3,499.4 1039.4,500.6C1040.4,501.8 1042.0,502.6 1043.1,503.8C1044.3,504.9 1045.3,505.9 1046.2,507.5C1047.2,509.1 1047.8,511.2 1048.8,513.1C1049.7,515.0 1050.8,516.8 1051.9,518.8C1052.9,520.7 1054.1,523.2 1055.0,525.0C1055.9,526.8 1056.7,528.3 1057.5,529.4C1058.3,530.5 1059.1,531.0 1060.0,531.5C1060.9,532.0 1061.9,531.6 1063.1,532.5C1064.4,533.4 1066.4,535.2 1067.5,536.9C1068.6,538.5 1069.2,540.2 1070.0,542.5C1070.8,544.8 1071.5,548.1 1072.5,550.6C1073.5,553.1 1074.6,555.2 1076.2,557.5C1077.9,559.8 1080.9,562.3 1082.5,564.4C1084.1,566.5 1084.5,568.3 1085.6,570.0C1086.8,571.7 1088.0,573.5 1089.4,574.4C1090.7,575.2 1092.5,574.0 1093.8,575.0C1095.0,576.0 1095.8,578.7 1096.9,580.6C1097.9,582.5 1098.5,584.4 1100.0,586.2C1101.5,588.1 1103.8,590.0 1105.6,591.9C1107.4,593.8 1109.1,595.9 1110.6,597.5C1112.2,599.1 1113.5,600.5 1115.0,601.2C1116.5,602.0 1118.1,601.3 1119.4,601.9C1120.6,602.5 1121.5,603.4 1122.5,605.0C1123.5,606.6 1124.6,609.3 1125.6,611.2C1126.7,613.2 1127.7,615.3 1128.8,616.9C1129.8,618.4 1130.6,619.8 1131.9,620.6C1133.1,621.5 1134.7,621.2 1136.2,621.9C1137.8,622.6 1139.7,624.0 1141.2,624.8C1142.8,625.5 1144.3,625.8 1145.6,626.5C1147.0,627.2 1148.2,627.4 1149.4,628.8C1150.5,630.1 1151.5,632.7 1152.5,634.4C1153.5,636.0 1154.6,637.9 1155.6,638.8C1156.7,639.6 1157.7,639.7 1158.8,639.8C1159.8,639.8 1160.8,639.3 1161.9,639.0C1162.9,638.7 1164.1,637.9 1165.0,638.1C1165.9,638.4 1166.7,639.1 1167.5,640.6C1168.3,642.2 1169.3,645.3 1170.0,647.5C1170.7,649.7 1171.0,651.9 1171.9,653.8C1172.7,655.6 1174.0,657.2 1175.0,658.8C1176.0,660.3 1177.1,661.3 1178.1,663.1C1179.2,664.9 1180.5,668.0 1181.2,669.4C1182.0,670.7 1181.6,669.6 1182.5,671.2C1183.4,672.9 1185.5,677.0 1186.9,679.4C1188.2,681.8 1189.7,683.5 1190.6,685.6C1191.6,687.7 1191.7,689.9 1192.5,691.9C1193.3,693.9 1194.4,696.2 1195.6,697.8C1196.9,699.3 1198.8,699.8 1200.0,701.2C1201.2,702.7 1201.8,704.5 1203.1,706.2C1204.5,708.0 1206.3,710.2 1208.1,711.9C1209.9,713.6 1212.2,715.5 1213.8,716.5C1215.3,717.5 1216.1,717.2 1217.5,717.8C1218.9,718.3 1220.3,718.8 1221.9,720.0C1223.4,721.2 1225.1,723.8 1226.9,725.2C1228.7,726.7 1230.6,727.4 1232.5,728.5C1234.4,729.6 1236.5,731.0 1238.1,731.9C1239.8,732.8 1241.1,733.3 1242.5,734.0C1243.9,734.7 1245.0,735.7 1246.2,736.2C1247.5,736.8 1248.9,737.0 1250.0,737.2C1251.1,737.5 1252.3,737.9 1253.1,737.5C1254.0,737.1 1254.6,735.9 1255.0,735.0C1255.4,734.1 1255.0,732.4 1255.6,732.2C1256.2,732.1 1257.7,733.8 1258.8,734.4C1259.8,734.9 1261.1,736.0 1261.9,735.6C1262.7,735.2 1262.9,733.0 1263.5,731.9C1264.1,730.8 1264.8,729.1 1265.6,729.0C1266.4,728.9 1267.2,730.2 1268.1,731.2C1269.1,732.2 1270.1,733.8 1271.2,735.0C1272.4,736.2 1273.9,737.4 1275.0,738.5C1276.1,739.6 1276.9,741.0 1278.1,741.9C1279.4,742.8 1281.1,742.8 1282.5,743.8C1283.9,744.7 1285.1,746.5 1286.2,747.5C1287.4,748.5 1288.3,749.0 1289.4,749.8C1290.4,750.5 1291.7,750.6 1292.5,751.9C1293.3,753.2 1293.8,755.3 1294.4,757.5C1295.0,759.7 1295.6,762.8 1296.2,765.0C1296.9,767.2 1297.4,769.3 1298.1,770.6C1298.8,771.9 1299.2,772.4 1300.6,772.8C1302.1,773.1 1305.3,772.3 1306.9,772.8C1308.4,773.2 1308.9,774.5 1310.0,775.6C1311.1,776.7 1312.5,778.5 1313.8,779.4C1315.0,780.3 1316.2,780.7 1317.5,781.0C1318.8,781.3 1320.1,781.2 1321.2,781.0C1322.4,780.8 1323.3,781.0 1324.4,780.0C1325.4,779.0 1326.5,776.6 1327.5,775.0C1328.5,773.4 1329.6,771.1 1330.6,770.6C1331.7,770.1 1332.7,771.4 1333.8,771.9C1334.8,772.4 1335.7,772.4 1336.9,773.5C1338.0,774.6 1339.6,777.1 1340.6,778.8C1341.7,780.4 1342.0,782.0 1343.1,783.1C1344.3,784.2 1346.0,784.7 1347.5,785.2C1349.0,785.8 1350.6,786.1 1351.9,786.5C1353.1,786.9 1353.6,787.5 1355.0,787.5C1356.4,787.5 1358.2,786.7 1360.0,786.2C1361.8,785.8 1363.7,784.8 1365.6,784.6C1367.5,784.4 1369.4,785.0 1371.2,785.0C1373.1,785.0 1375.2,784.5 1376.9,784.6C1378.5,784.7 1380.0,785.0 1381.2,785.6C1382.5,786.2 1383.3,787.0 1384.4,788.1C1385.4,789.3 1386.5,791.3 1387.5,792.5C1388.5,793.7 1389.4,794.9 1390.6,795.4C1391.9,795.9 1393.4,795.1 1395.0,795.4C1396.6,795.7 1398.1,796.7 1400.0,797.1C1401.9,797.5 1404.1,797.7 1406.2,797.8C1408.4,797.8 1411.1,796.9 1413.1,797.2C1415.1,797.6 1416.5,799.4 1418.1,800.0C1419.8,800.6 1421.6,800.5 1423.1,801.0C1424.7,801.5 1425.7,802.6 1427.5,802.8C1429.3,802.9 1431.6,801.9 1433.8,801.9C1435.9,801.8 1438.2,802.4 1440.6,802.5C1443.0,802.6 1446.1,802.5 1448.1,802.8C1450.1,803.0 1451.1,803.5 1452.5,804.0C1453.9,804.5 1454.7,806.2 1456.2,806.0C1457.8,805.8 1460.1,803.2 1461.9,802.5C1463.7,801.8 1465.2,801.9 1466.9,801.5C1468.5,801.1 1469.9,800.5 1471.9,800.4C1473.9,800.2 1476.6,800.0 1478.8,800.6C1480.9,801.3 1483.0,803.5 1485.0,804.4C1487.0,805.2 1488.4,806.1 1490.6,805.6C1492.8,805.1 1495.8,801.1 1498.1,801.2C1500.4,801.4 1502.3,805.7 1504.4,806.2C1506.5,806.8 1508.7,804.5 1510.6,804.4C1512.5,804.2 1514.0,805.0 1515.6,805.2C1517.3,805.5 1518.6,805.2 1520.6,805.6C1522.6,806.0 1525.2,807.9 1527.5,807.8C1529.8,807.6 1531.9,805.4 1534.4,805.0C1536.9,804.6 1539.7,805.2 1542.5,805.6C1545.3,806.0 1548.6,806.5 1551.2,807.2C1553.9,808.0 1556.3,809.8 1558.1,810.0C1559.9,810.2 1560.4,808.6 1561.9,808.8C1563.3,808.9 1565.3,810.0 1566.9,810.6C1568.4,811.2 1569.6,811.9 1571.2,812.2C1572.9,812.6 1575.2,812.1 1576.9,812.5C1578.5,812.9 1579.7,813.6 1581.2,814.4C1582.8,815.1 1584.7,816.6 1586.2,817.1C1587.8,817.7 1589.0,817.8 1590.6,817.8C1592.3,817.8 1594.7,817.4 1596.2,817.1C1597.8,816.8 1598.8,816.1 1600.0,815.8C1601.2,815.6 1602.6,815.3 1603.7,815.6C1604.7,816.0 1605.5,817.1 1606.2,817.9C1607.0,818.8 1607.5,820.3 1608.3,820.8C1609.2,821.4 1610.4,821.7 1611.5,821.0C1612.5,820.4 1613.2,817.9 1614.6,817.1C1616.0,816.2 1618.2,816.5 1619.8,816.0C1621.4,815.6 1622.7,814.7 1624.0,814.3C1625.3,813.9 1626.4,813.6 1627.6,813.8C1628.8,813.9 1629.9,814.7 1631.2,815.0C1632.6,815.3 1634.1,815.8 1635.4,815.8C1636.7,815.8 1637.8,815.0 1639.1,815.0C1640.3,815.0 1641.7,815.6 1642.7,815.8C1643.7,816.1 1642.8,816.5 1645.0,816.7C1647.2,816.8 1654.1,816.7 1655.9,816.7" fill="none" stroke="#ffa114" stroke-width="4.9" stroke-linejoin="round" stroke-linecap="round"/>
<circle cx="1655.9" cy="816.7" r="10" fill="#ffa114" stroke="#ffffff" stroke-width="3"/>
<text transform="scale(1.0,1)" x="1693.00 1718.60 1744.20 1769.80" y="829.60" text-anchor="middle" font-family="Liberation Mono, monospace" font-size="40.8" fill="#ffa114" style="text-rendering:geometricPrecision">68.9</text>
</g>
</svg>
</body>
</html>
